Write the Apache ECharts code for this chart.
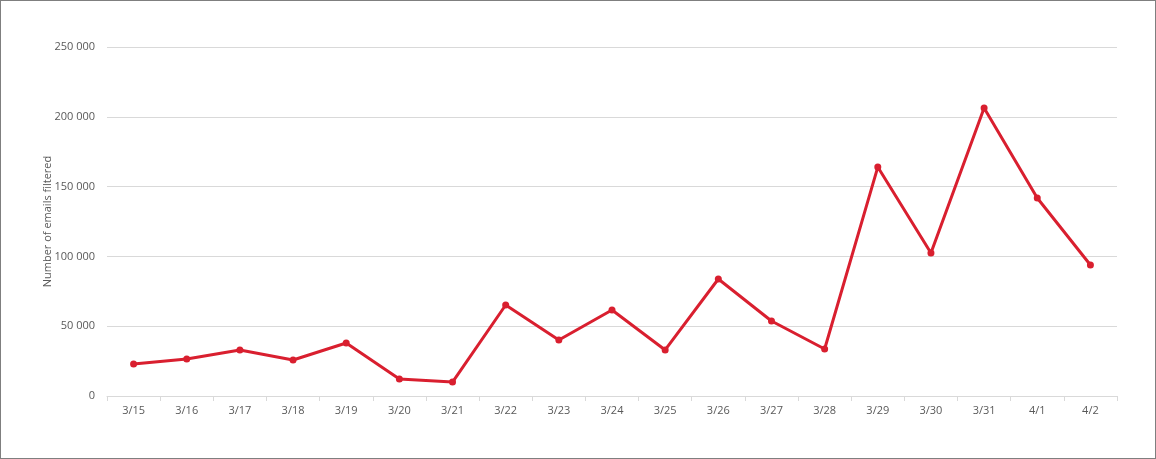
<!DOCTYPE html>
<html><head><meta charset="utf-8">
<script src="https://cdn.jsdelivr.net/npm/echarts@6/dist/echarts.min.js"></script>
<style>
html,body{margin:0;padding:0;background:#fff;}
#c{width:1154px;height:457px;border:1px solid #7f7f7f;}
</style></head>
<body><div id="c"></div>
<script>
const categories = ['3/15','3/16','3/17','3/18','3/19','3/20','3/21','3/22','3/23','3/24','3/25','3/26','3/27','3/28','3/29','3/30','3/31','4/1','4/2'];
const emailsFiltered = [22900, 26500, 33000, 25800, 38000, 12200, 10000, 65200, 40100, 61600, 33000, 83800, 53700, 33700, 164000, 102400, 206300, 141800, 93800];
const yTicks = {min: 0, max: 250000, interval: 50000};

const chart = echarts.init(document.getElementById('c'));
const fmt = v => String(v).replace(/\B(?=(\d{3})+(?!\d))/g, ' ');
chart.setOption({
  animation: false,
  textStyle: {fontFamily: 'Open Sans'},
  grid: {left: 106, right: 38, top: 46, bottom: 62},
  xAxis: {
    type: 'category', data: categories, boundaryGap: true,
    axisLine: {lineStyle: {color: '#d9d9d9'}},
    axisTick: {show: true, length: 5, lineStyle: {color: '#d9d9d9'}},
    axisLabel: {color: '#595959', fontSize: 11, margin: 9}
  },
  yAxis: {
    type: 'value', min: yTicks.min, max: yTicks.max, interval: yTicks.interval,
    name: 'Number of emails filtered', nameLocation: 'middle', nameGap: 54,
    nameMoveOverlap: false,
    nameTextStyle: {color: '#595959', fontSize: 11},
    axisLine: {show: false}, axisTick: {show: false},
    splitLine: {lineStyle: {color: '#d9d9d9'}},
    axisLabel: {color: '#595959', fontSize: 11, margin: 12, formatter: fmt}
  },
  series: [{
    type: 'line', data: emailsFiltered,
    symbol: 'circle', symbolSize: 7,
    lineStyle: {color: '#d91f2f', width: 3},
    itemStyle: {color: '#d91f2f'}
  }]
});
</script></body></html>
